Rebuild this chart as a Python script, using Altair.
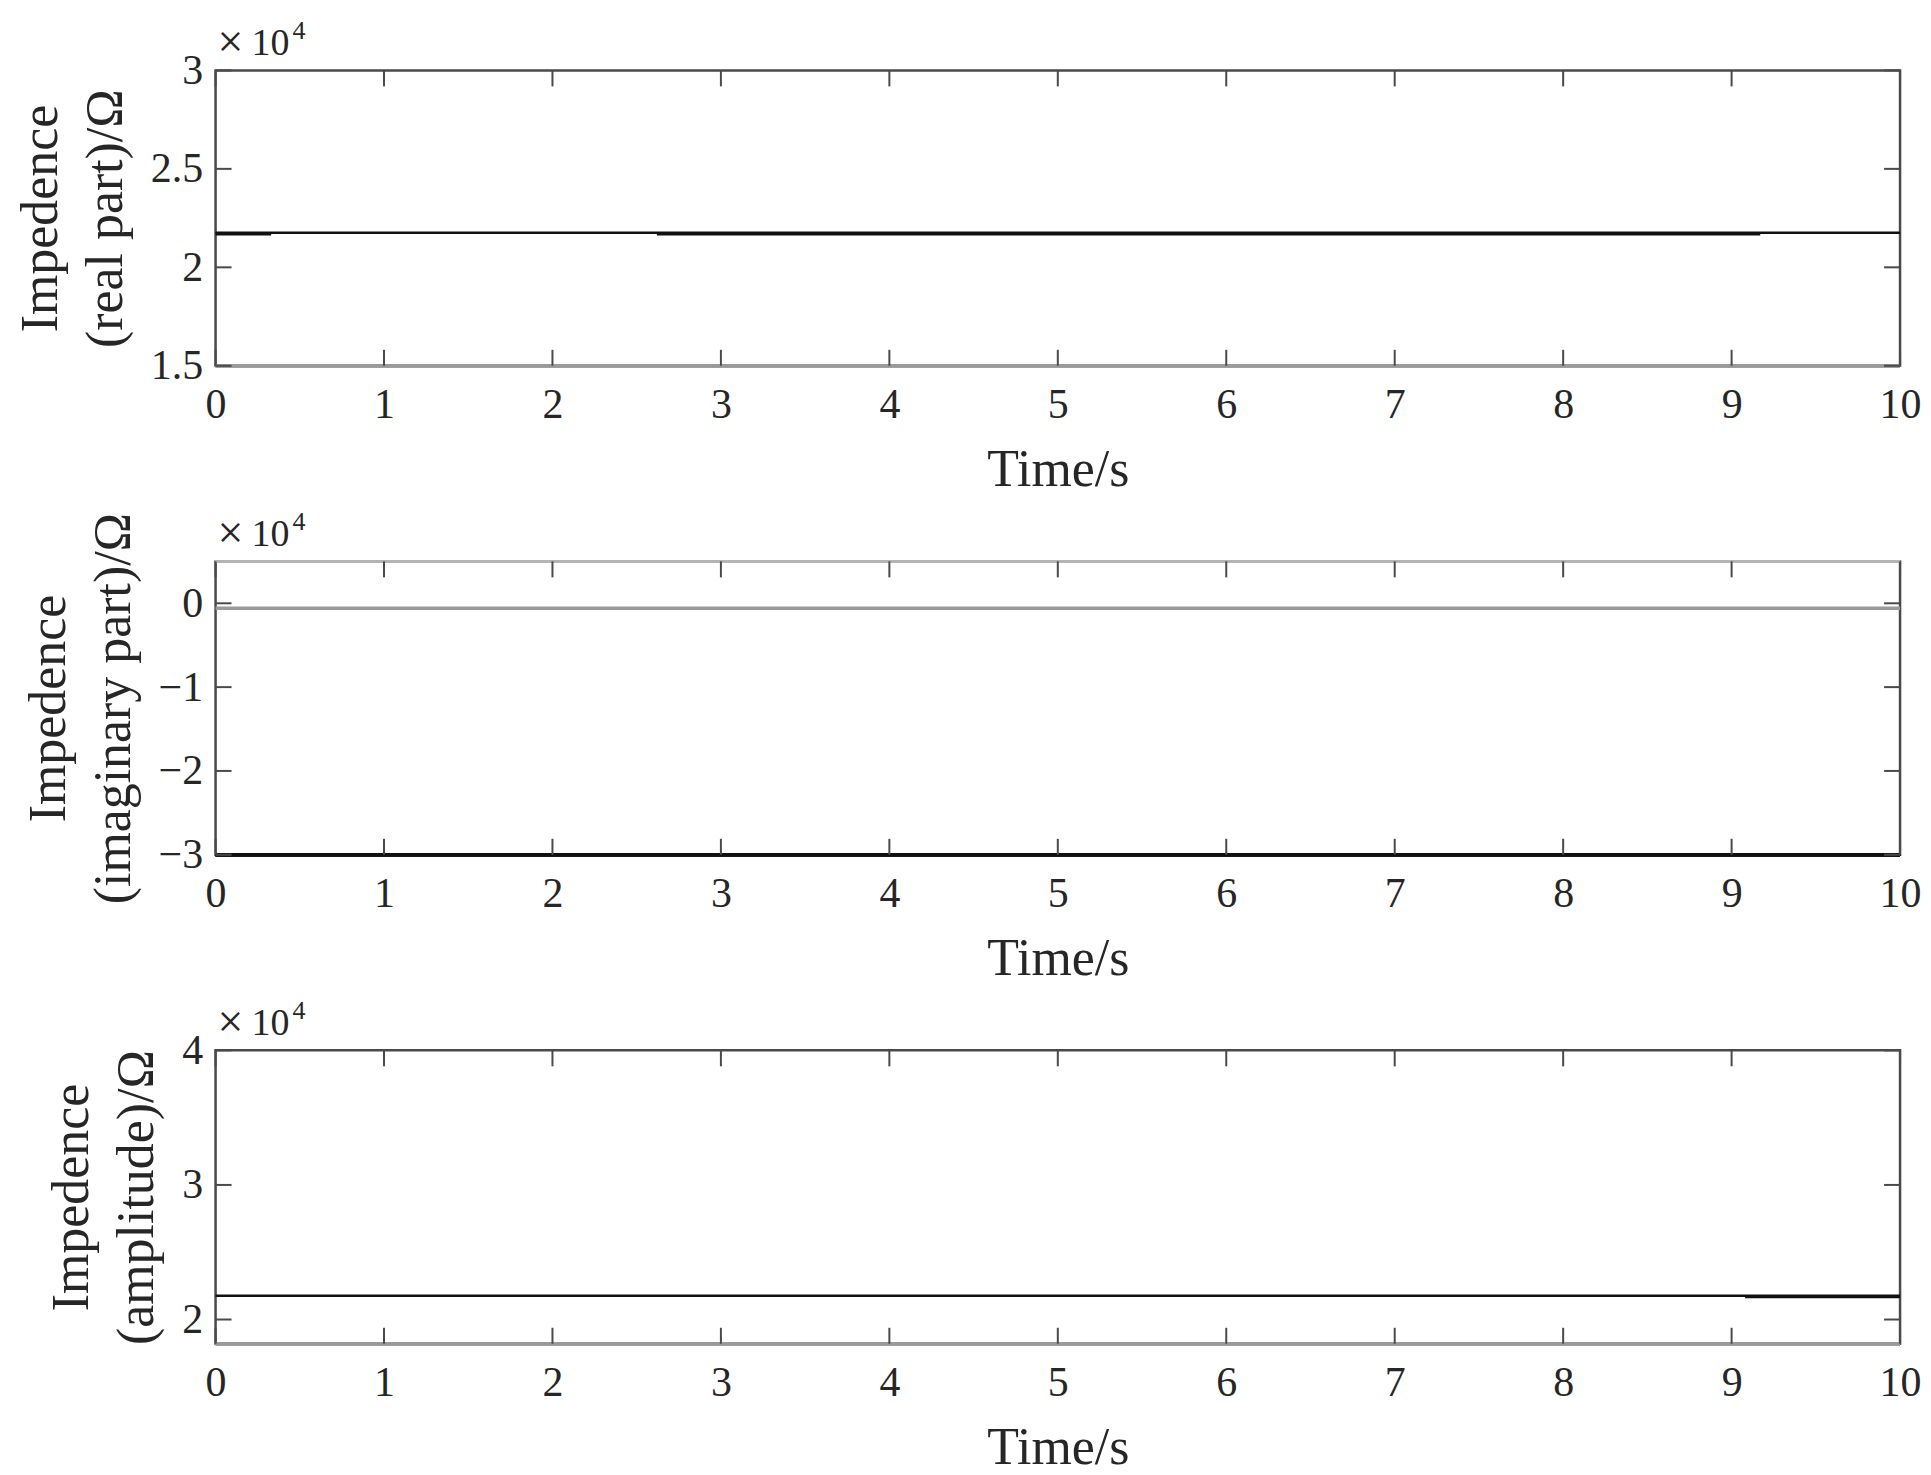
import altair as alt
import pandas as pd

# ---------------- data (Ω, seconds) ----------------
time_ticks = [0, 1, 2, 3, 4, 5, 6, 7, 8, 9, 10]
real_ticks = [15000, 20000, 25000, 30000]
imag_ticks = [-30000, -20000, -10000, 0]
amp_ticks = [20000, 30000, 40000]

real_t = [0.0, 10.0]
real_v = [21750, 21750]
real_ripple_start = [0.0, 2.62]
real_ripple_end = [0.33, 9.17]
real_ripple_v = [21690, 21690]

imag_t = [0.0, 10.0]
imag_v = [-600, -600]

amp_t = [0.0, 10.0]
amp_v = [21760, 21760]
amp_ripple_start = [9.08]
amp_ripple_end = [10.0]
amp_ripple_v = [21700]

y_titles = [
    ["Impedence", "(real part)/Ω"],
    ["Impedence", "(imaginary part)/Ω"],
    ["Impedence", "(amplitude)/Ω"],
]
x_title = "Time/s"
mult_parts = ["×", "10", "4"]

# ---------------- style ----------------
FONT = "Liberation Serif"
TXT = "#262626"
BOX = "#4a4a4a"
W = 1688
TICK = 16


def panel(ytitle, ydomain, yticks, t, v, seg_start, seg_end, seg_v, height,
          line_color, line_width, dark_bottom=False, light_top=False, light_bottom=False):
    xs = alt.Scale(domain=[0, 10], nice=False, zero=False)
    ys = alt.Scale(domain=ydomain, nice=False, zero=False)
    xax = alt.Axis(values=time_ticks, title=x_title, ticks=False, tickSize=0,
                   domain=False, grid=False, labelPadding=19, titlePadding=19,
                   labelFlush=False)
    yax = alt.Axis(values=yticks, title=ytitle, ticks=False, tickSize=0,
                   domain=False, grid=False, labelPadding=13, titlePadding=18,
                   titleLineHeight=65, titleLimit=2000,
                   labelExpr="replace('' + datum.value / 10000, '-', '\u2212')")

    X = lambda: alt.X("t:Q", scale=xs, axis=xax)
    Y = lambda: alt.Y("v:Q", scale=ys, axis=yax)

    layers = []
    df = pd.DataFrame({"t": t, "v": v})
    layers.append(alt.Chart(df).mark_line(color=line_color, strokeWidth=line_width).encode(x=X(), y=Y()))
    if seg_start:
        sdf = pd.DataFrame({"t": seg_start, "t2": seg_end, "v": seg_v})
        layers.append(alt.Chart(sdf).mark_rule(color="#111111", strokeWidth=3).encode(
            x=X(), x2="t2:Q", y=Y()))

    xt = pd.DataFrame({"t": time_ticks})
    yt = pd.DataFrame({"v": yticks})
    if light_top:
        layers.append(alt.Chart(xt).mark_rule(color="#b4b4b4", strokeWidth=3).encode(
            x=alt.value(0), x2=alt.value(W), y=alt.value(0)))
    if light_bottom:
        layers.append(alt.Chart(xt).mark_rule(color="#9a9a9a", strokeWidth=3).encode(
            x=alt.value(0), x2=alt.value(W), y=alt.value(height)))
    if dark_bottom:
        layers.append(alt.Chart(xt).mark_rule(color="#111111", strokeWidth=3).encode(
            x=alt.value(0), x2=alt.value(W), y=alt.value(height)))
    tick_style = dict(color=BOX, strokeWidth=2)
    layers.append(alt.Chart(xt).mark_rule(**tick_style).encode(
        x=X(), y=alt.value(height), y2=alt.value(height - TICK)))
    layers.append(alt.Chart(xt).mark_rule(**tick_style).encode(
        x=X(), y=alt.value(0), y2=alt.value(TICK)))
    layers.append(alt.Chart(yt).mark_rule(**tick_style).encode(
        y=Y(), x=alt.value(0), x2=alt.value(TICK)))
    layers.append(alt.Chart(yt).mark_rule(**tick_style).encode(
        y=Y(), x=alt.value(W), x2=alt.value(W - TICK)))

    # ×10^4 multiplier
    for part, dx, dy, fs in [(mult_parts[0], 2, -13, 46),
                             (mult_parts[1], 36, -15, 38),
                             (mult_parts[2], 77, -31, 26)]:
        layers.append(alt.Chart(pd.DataFrame({"s": [part]})).mark_text(
            align="left", baseline="alphabetic", font=FONT, fontSize=fs, color=TXT
        ).encode(x=alt.value(dx), y=alt.value(dy), text="s:N"))

    return alt.layer(*layers).properties(width=W, height=height)


p1 = panel(y_titles[0], [15000, 30000], real_ticks, real_t, real_v,
           real_ripple_start, real_ripple_end, real_ripple_v, 296, "#111111", 2.5,
           light_bottom=True)
p2 = panel(y_titles[1], [-30000, 5000], imag_ticks, imag_t, imag_v,
           [], [], [], 294, "#9a9a9a", 3.5, dark_bottom=True, light_top=True)
p3 = panel(y_titles[2], [18200, 40000], amp_ticks, amp_t, amp_v,
           amp_ripple_start, amp_ripple_end, amp_ripple_v, 294, "#111111", 2.5,
           light_bottom=True)

chart = alt.vconcat(p1, p2, p3, spacing=196, bounds="flush").properties(
    padding={"left": 5, "top": 7, "right": 0, "bottom": 0}
).configure_view(
    stroke=BOX, strokeWidth=2.5
).configure_axis(
    labelFont=FONT, titleFont=FONT, labelFontSize=42, titleFontSize=52,
    labelColor=TXT, titleColor=TXT, titleFontWeight="normal"
)

chart.save("out.html", embed_options={"renderer": "svg", "actions": False})
